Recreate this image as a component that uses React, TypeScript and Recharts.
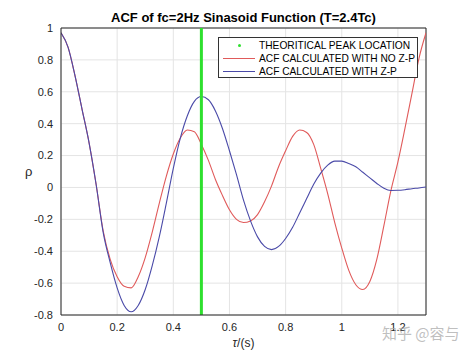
import { CartesianGrid, Line, LineChart, ReferenceLine, XAxis, YAxis } from "recharts";

// lag values (s)
const tau = [
  0, 0.025, 0.05, 0.075, 0.1, 0.125, 0.15, 0.175, 0.2, 0.225, 0.25, 0.275, 0.3,
  0.325, 0.35, 0.375, 0.4, 0.425, 0.45, 0.475, 0.5, 0.525, 0.55, 0.575, 0.6,
  0.625, 0.65, 0.675, 0.7, 0.725, 0.75, 0.775, 0.8, 0.825, 0.85, 0.875, 0.9,
  0.925, 0.95, 0.975, 1.0, 1.025, 1.05, 1.075, 1.1, 1.125, 1.15, 1.175, 1.2,
  1.225, 1.25, 1.275, 1.3,
];

// ACF without zero padding (red)
const acfNoZp = [
  0.97, 0.88, 0.7, 0.49, 0.28, 0.02, -0.27, -0.45, -0.56, -0.62, -0.63, -0.56,
  -0.44, -0.28, -0.1, 0.07, 0.21, 0.31, 0.36, 0.35, 0.27, 0.17, 0.05, -0.05,
  -0.14, -0.2, -0.22, -0.21, -0.17, -0.09, 0.01, 0.13, 0.23, 0.32, 0.36, 0.345,
  0.27, 0.12, -0.04, -0.22, -0.38, -0.52, -0.61, -0.64, -0.59, -0.45, -0.24,
  -0.02, 0.16, 0.37, 0.59, 0.81, 0.97,
];

// ACF with zero padding (blue)
const acfZp = [
  0.97, 0.88, 0.7, 0.49, 0.28, 0.02, -0.28, -0.47, -0.63, -0.74, -0.78, -0.74,
  -0.64, -0.49, -0.31, -0.1, 0.12, 0.31, 0.45, 0.54, 0.57, 0.55, 0.48, 0.37,
  0.23, 0.08, -0.08, -0.21, -0.31, -0.37, -0.39, -0.37, -0.32, -0.25, -0.16,
  -0.07, 0.02, 0.09, 0.14, 0.165, 0.165, 0.15, 0.13, 0.095, 0.06, 0.025, -0.005,
  -0.019, -0.018, -0.014, -0.008, -0.003, 0.003,
];

// theoretical peak location marker
const peakX = [0.5, 0.5];
const peakY = [-0.8, 1];

const xTicks = [0, 0.2, 0.4, 0.6, 0.8, 1, 1.2];
const yTicks = [-0.8, -0.6, -0.4, -0.2, 0, 0.2, 0.4, 0.6, 0.8, 1];

const legendLabels = [
  "THEORITICAL PEAK LOCATION",
  "ACF CALCULATED WITH NO Z-P",
  "ACF CALCULATED WITH Z-P",
];

const RED = "#e05a5a";
const BLUE = "#4a4aa8";
const GREEN = "#2ee02e";
const AXIS = "#262626";
const FONT = '"Liberation Sans", Arial, sans-serif';

const data = tau.map((t, i) => ({ t, noZp: acfNoZp[i], zp: acfZp[i] }));
const peakData = peakX.map((t, i) => ({ t, peak: peakY[i] }));

export default function App() {
  return (
    <div style={{ position: "relative", width: 472, height: 354, background: "#fff", fontFamily: FONT }}>
      <style>{`body{margin:0}`}</style>
      <LineChart width={472} height={354} data={data} margin={{ top: 28, right: 46, bottom: 14, left: 0 }}>
        <CartesianGrid stroke="#e4e4e4" strokeWidth={1} />
        <XAxis
          dataKey="t"
          type="number"
          domain={[0, 1.3]}
          ticks={xTicks}
          allowDataOverflow
          height={25}
          tickLine={false}
          axisLine={{ stroke: AXIS }}
          tick={{ fill: AXIS, fontSize: 11, fontFamily: FONT }}
          tickFormatter={(v: number) => String(v)}
        />
        <YAxis
          type="number"
          domain={[-0.8, 1]}
          ticks={yTicks}
          allowDataOverflow
          width={61}
          tickLine={false}
          axisLine={{ stroke: AXIS }}
          tick={{ fill: AXIS, fontSize: 11, fontFamily: FONT }}
          tickFormatter={(v: number) => String(v)}
        />
        <ReferenceLine x={1.3} stroke={AXIS} />
        <ReferenceLine y={1} stroke={AXIS} />
        <Line
          type="monotone"
          dataKey="noZp"
          stroke={RED}
          strokeWidth={1.1}
          dot={false}
          isAnimationActive={false}
        />
        <Line
          type="monotone"
          dataKey="zp"
          stroke={BLUE}
          strokeWidth={1.1}
          dot={false}
          isAnimationActive={false}
        />
        <Line
          data={peakData}
          type="linear"
          dataKey="peak"
          stroke={GREEN}
          strokeWidth={3}
          dot={false}
          isAnimationActive={false}
        />
      </LineChart>

      <div
        style={{
          position: "absolute",
          left: 61,
          top: 10,
          width: 365,
          textAlign: "center",
          fontWeight: "bold",
          fontSize: 13,
          lineHeight: "16px",
          color: "#000",
        }}
      >
        ACF of fc=2Hz Sinasoid Function (T=2.4Tc)
      </div>

      <div
        style={{
          position: "absolute",
          left: 61,
          top: 336,
          width: 365,
          textAlign: "center",
          fontSize: 12,
          lineHeight: "15px",
          color: AXIS,
        }}
      >
        <i>τ</i>/(s)
      </div>

      <div style={{ position: "absolute", left: 25, top: 164, fontSize: 13, lineHeight: "16px", color: AXIS }}>ρ</div>

      <div
        style={{
          position: "absolute",
          left: 218,
          top: 37,
          width: 200,
          height: 41,
          boxSizing: "border-box",
          border: "1px solid #333",
          background: "#fff",
          paddingTop: 1,
          fontSize: 10.2,
          color: "#000",
        }}
      >
        {legendLabels.map((label, i) => (
          <div key={label} style={{ position: "relative", height: 13, lineHeight: "13px" }}>
            {i === 0 ? (
              <span
                style={{ position: "absolute", left: 19, top: 5, width: 3, height: 3, borderRadius: 2, background: GREEN }}
              />
            ) : (
              <span
                style={{
                  position: "absolute",
                  left: 4,
                  top: 6,
                  width: 32,
                  height: 1,
                  background: i === 1 ? RED : BLUE,
                }}
              />
            )}
            <span style={{ position: "absolute", left: 40, whiteSpace: "nowrap" }}>{label}</span>
          </div>
        ))}
      </div>

      <div
        style={{
          position: "absolute",
          left: 382,
          top: 324,
          fontSize: 15,
          lineHeight: "18px",
          color: "rgba(170,170,170,0.75)",
          fontFamily: '"Noto Sans CJK SC", sans-serif',
          whiteSpace: "nowrap",
        }}
      >
        知乎 @容与
      </div>
    </div>
  );
}
